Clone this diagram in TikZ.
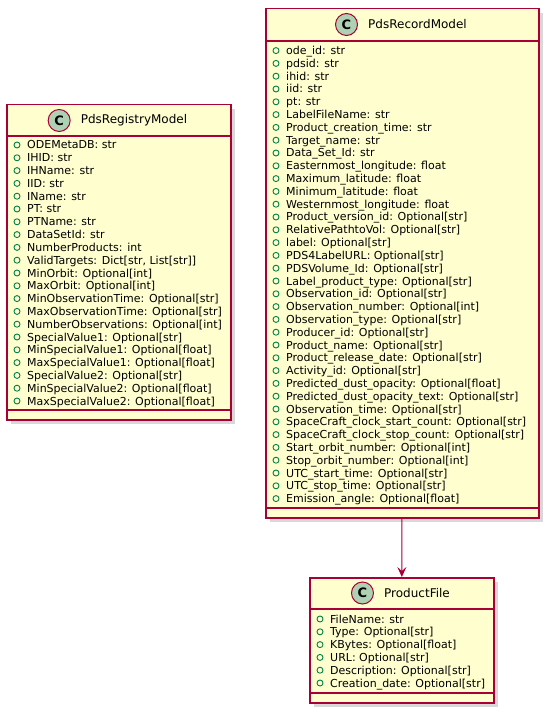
\documentclass[tikz,border=0pt]{standalone}
\usepackage{fontspec}
\setmainfont{DejaVu Sans}
\usetikzlibrary{positioning,shadows,arrows.meta}
\definecolor{umlborder}{HTML}{A80036}
\definecolor{umlfill}{HTML}{FEFECE}
\definecolor{umlmark}{HTML}{ADD1B2}
\definecolor{umlpublic}{HTML}{038048}
\tikzset{
  classbox/.style={draw=umlborder, fill=umlfill, line width=1.5pt, inner sep=0pt, anchor=north west,
    drop shadow={shadow xshift=4pt, shadow yshift=-4pt, opacity=0.3}},
  classline/.style={draw=umlborder, line width=1.5pt},
  classmark/.style={circle, draw=umlborder, fill=umlmark, line width=1pt, minimum size=22pt, inner sep=0pt,
    font=\fontsize{13}{13}\selectfont\bfseries},
  classname/.style={inner sep=0pt, font=\fontsize{12}{14}\selectfont},
  attrtext/.style={inner sep=0pt, anchor=base west, font=\fontsize{11}{13}\selectfont},
  pubmark/.style={draw=umlpublic, line width=0.9pt},
  assoc/.style={draw=umlborder, line width=1pt, -{Stealth[length=10pt, width=9pt, inset=4pt]}}
}
\begin{document}
\begin{tikzpicture}[x=1pt, y=-1pt]
    \useasboundingbox[fill=white] (0,0) rectangle (547,711);

    % Class boxes
    \node[classbox, minimum width=224pt, minimum height=315pt] (registry) at (6,104) {};
    \node[classbox, minimum width=273pt, minimum height=509pt] (record) at (265,8) {};
    \node[classbox, minimum width=184pt, minimum height=125pt] (product) at (309,577) {};

    % Separators
    \draw[classline] (registry.west |- 0,136) -- (registry.east |- 0,136);
    \draw[classline] (registry.west |- 0,410) -- (registry.east |- 0,410);
    \draw[classline] (record.west |- 0,41) -- (record.east |- 0,41);
    \draw[classline] (record.west |- 0,508) -- (record.east |- 0,508);
    \draw[classline] (product.west |- 0,609) -- (product.east |- 0,609);
    \draw[classline] (product.west |- 0,693) -- (product.east |- 0,693);

    % Headers
    \node[classname] (registryname) at (134,120.5) {PdsRegistryModel};
    \node[classmark, left=10pt of registryname] (registryC) {C};
    \node[classname] (recordname) at (417.5,24.5) {PdsRecordModel};
    \node[classmark, left=10pt of recordname] (recordC) {C};
    \node[classname] (productname) at (417,593) {ProductFile};
    \node[classmark, left=10pt of productname] (productC) {C};

    % Attributes
    \foreach \attr [count=\i from 0] in {{ODEMetaDB: str}, {IHID: str}, {IHName: str}, {IID: str},
        {IName: str}, {PT: str}, {PTName: str}, {DataSetId: str}, {NumberProducts: int},
        {ValidTargets: Dict[str, List[str]]}, {MinOrbit: Optional[int]}, {MaxOrbit: Optional[int]},
        {MinObservationTime: Optional[str]}, {MaxObservationTime: Optional[str]},
        {NumberObservations: Optional[int]}, {SpecialValue1: Optional[str]},
        {MinSpecialValue1: Optional[float]}, {MaxSpecialValue1: Optional[float]},
        {SpecialValue2: Optional[str]}, {MinSpecialValue2: Optional[float]},
        {MaxSpecialValue2: Optional[float]}} {
      \node[attrtext] (reg\i) at (27,{149+12.8*\i}) {\attr};
      \draw[pubmark] (17,{145+12.8*\i}) circle (3pt);
    }
    \foreach \attr [count=\i from 0] in {{ode\_id: str}, {pdsid: str}, {ihid: str}, {iid: str},
        {pt: str}, {LabelFileName: str}, {Product\_creation\_time: str}, {Target\_name: str},
        {Data\_Set\_Id: str}, {Easternmost\_longitude: float}, {Maximum\_latitude: float},
        {Minimum\_latitude: float}, {Westernmost\_longitude: float},
        {Product\_version\_id: Optional[str]}, {RelativePathtoVol: Optional[str]},
        {label: Optional[str]}, {PDS4LabelURL: Optional[str]}, {PDSVolume\_Id: Optional[str]},
        {Label\_product\_type: Optional[str]}, {Observation\_id: Optional[str]},
        {Observation\_number: Optional[int]}, {Observation\_type: Optional[str]},
        {Producer\_id: Optional[str]}, {Product\_name: Optional[str]},
        {Product\_release\_date: Optional[str]}, {Activity\_id: Optional[str]},
        {Predicted\_dust\_opacity: Optional[float]}, {Predicted\_dust\_opacity\_text: Optional[str]},
        {Observation\_time: Optional[str]}, {SpaceCraft\_clock\_start\_count: Optional[str]},
        {SpaceCraft\_clock\_stop\_count: Optional[str]}, {Start\_orbit\_number: Optional[int]},
        {Stop\_orbit\_number: Optional[int]}, {UTC\_start\_time: Optional[str]},
        {UTC\_stop\_time: Optional[str]}, {Emission\_angle: Optional[float]}} {
      \node[attrtext] (rec\i) at (286,{54.6+12.8*\i}) {\attr};
      \draw[pubmark] (276,{50.6+12.8*\i}) circle (3pt);
    }
    \foreach \attr [count=\i from 0] in {{FileName: str}, {Type: Optional[str]},
        {KBytes: Optional[float]}, {URL: Optional[str]}, {Description: Optional[str]},
        {Creation\_date: Optional[str]}} {
      \node[attrtext] (prod\i) at (330,{623+12.8*\i}) {\attr};
      \draw[pubmark] (320,{619+12.8*\i}) circle (3pt);
    }

    % Association
    \draw[assoc] (record) -- (product);
\end{tikzpicture}
\end{document}
